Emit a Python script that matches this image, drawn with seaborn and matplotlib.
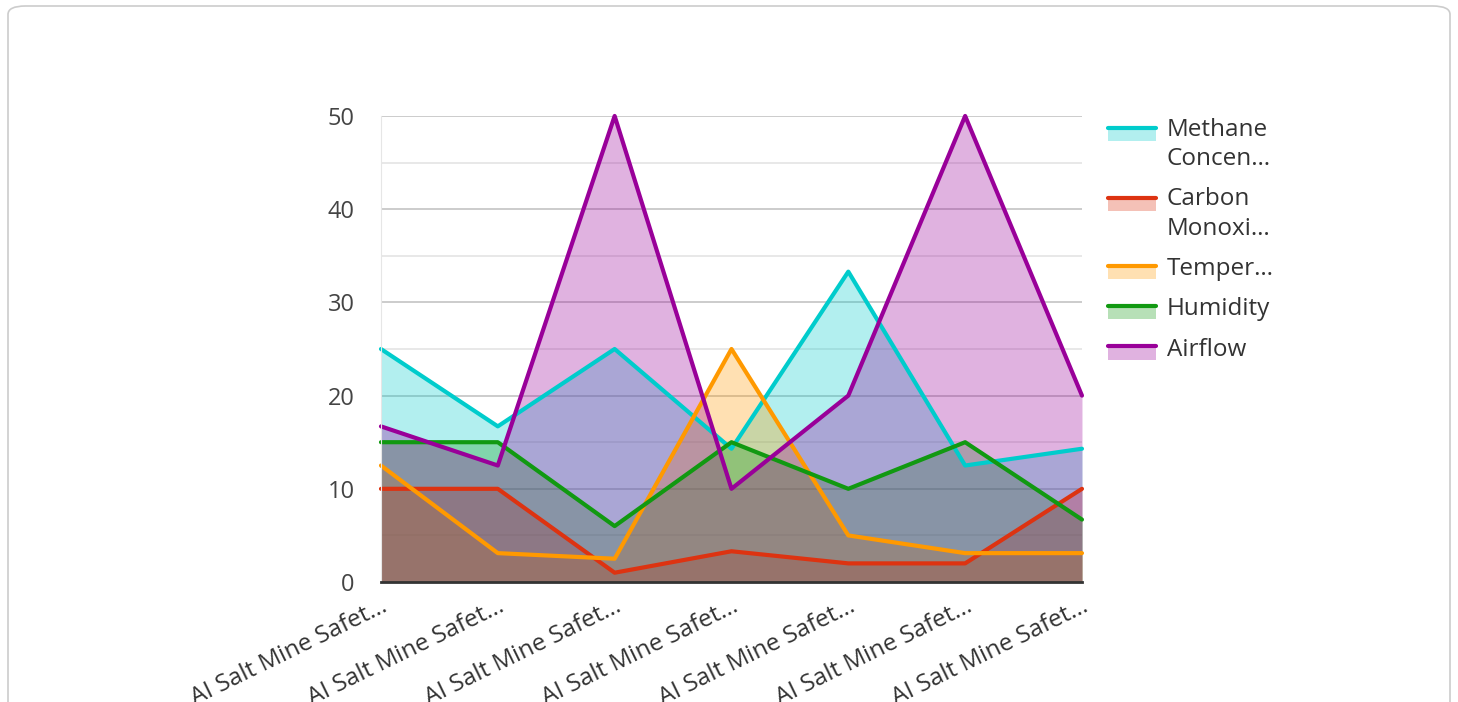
import matplotlib.pyplot as plt
import pandas as pd
import seaborn as sns
from matplotlib.legend_handler import HandlerBase
from matplotlib.patches import Rectangle, FancyBboxPatch
from matplotlib.lines import Line2D

labels = ["AI Salt Mine Safet…"] * 7
methane = [25, 16.7, 25, 14.3, 33.3, 12.5, 14.3]
carbon_monoxide = [10, 10, 1, 3.3, 2, 2, 10]
temperature = [12.5, 3.1, 2.5, 25, 5, 3.1, 3.1]
humidity = [15, 15, 6, 15, 10, 15, 6.7]
airflow = [16.7, 12.5, 50, 10, 20, 50, 20]

series_names = ["Methane Concentration", "Carbon Monoxide", "Temperature", "Humidity", "Airflow"]
legend_names = ["Methane\nConcen…", "Carbon\nMonoxi…", "Temper…", "Humidity", "Airflow"]
colors = ["#00CCCC", "#DD3311", "#FF9900", "#119911", "#990099"]

x = list(range(len(labels)))
df = pd.DataFrame({"x": x, "Methane Concentration": methane, "Carbon Monoxide": carbon_monoxide,
                   "Temperature": temperature, "Humidity": humidity, "Airflow": airflow})
long = df.melt("x", var_name="series", value_name="value")

sns.set_style("white")
plt.rcParams["font.family"] = ["Open Sans", "DejaVu Sans"]

fig = plt.figure(figsize=(14.58, 7.02), dpi=100)
ax = fig.add_axes([0.2613, 0.1709, 0.4808, 0.6639])

# rounded card border
fig.patches.append(FancyBboxPatch((8 / 1458, -0.05), 1442 / 1458, 1.05 - 6 / 702,
                                  boxstyle="round,pad=0,rounding_size=0.012",
                                  transform=fig.transFigure, facecolor="none",
                                  edgecolor="#cccccc", linewidth=1.2))

for name, c in zip(series_names, colors):
    ax.fill_between(df["x"], 0, df[name], color=c, alpha=0.3, linewidth=0)

sns.lineplot(data=long, x="x", y="value", hue="series", hue_order=series_names,
             palette=colors, linewidth=3, ax=ax, legend=False, clip_on=False)

ax.set_xlim(0, 6)
ax.set_ylim(0, 50)
ax.set_yticks([0, 10, 20, 30, 40, 50])
ax.set_yticks([5, 15, 25, 35, 45], minor=True)
ax.grid(axis="y", which="major", color="#c8c8c8", linewidth=1.3)
ax.grid(axis="y", which="minor", color="#e6e6e6", linewidth=1.3)
ax.set_axisbelow(True)
for s in ["top", "right"]:
    ax.spines[s].set_visible(False)
ax.spines["left"].set_color("#e6e6e6")
ax.spines["bottom"].set_color("#333333")
ax.spines["bottom"].set_linewidth(2)
ax.set_xticks(x)
ax.set_xticklabels(labels, rotation=26, ha="right", rotation_mode="anchor")
ax.tick_params(axis="x", length=0, pad=9, labelsize=17.5, labelcolor="#333333")
ax.tick_params(axis="y", which="both", length=0, pad=19, labelsize=17, labelcolor="#444444")
ax.set_xlabel("")
ax.set_ylabel("")


class AreaHandler(HandlerBase):
    def create_artists(self, legend, orig_handle, xdescent, ydescent, width, height, fontsize, trans):
        c = orig_handle.get_color()
        up = getattr(orig_handle, "shift", 0)
        top = -ydescent + height * 0.55 + up
        rect = Rectangle((-xdescent, top - 9.5), width, 9.5,
                         facecolor=c, alpha=0.3, linewidth=0, transform=trans)
        line = Line2D([-xdescent, -xdescent + width], [top, top],
                      color=c, linewidth=3, transform=trans)
        return [rect, line]


handles = []
for c, name in zip(colors, legend_names):
    h = Line2D([], [], color=c)
    h.shift = 11.5 if "\n" in name else 0
    handles.append(h)

leg = ax.legend(handles, legend_names, handler_map={Line2D: AreaHandler()},
                loc="upper left", bbox_to_anchor=(1.023, 1.017), frameon=False,
                fontsize=17.5, handlelength=2.0, handletextpad=0.42, labelspacing=0.67,
                borderaxespad=0, labelcolor="#333333")
for t in leg.get_texts():
    t.set_linespacing(1.3)

fig.savefig("out.png", dpi=100)
